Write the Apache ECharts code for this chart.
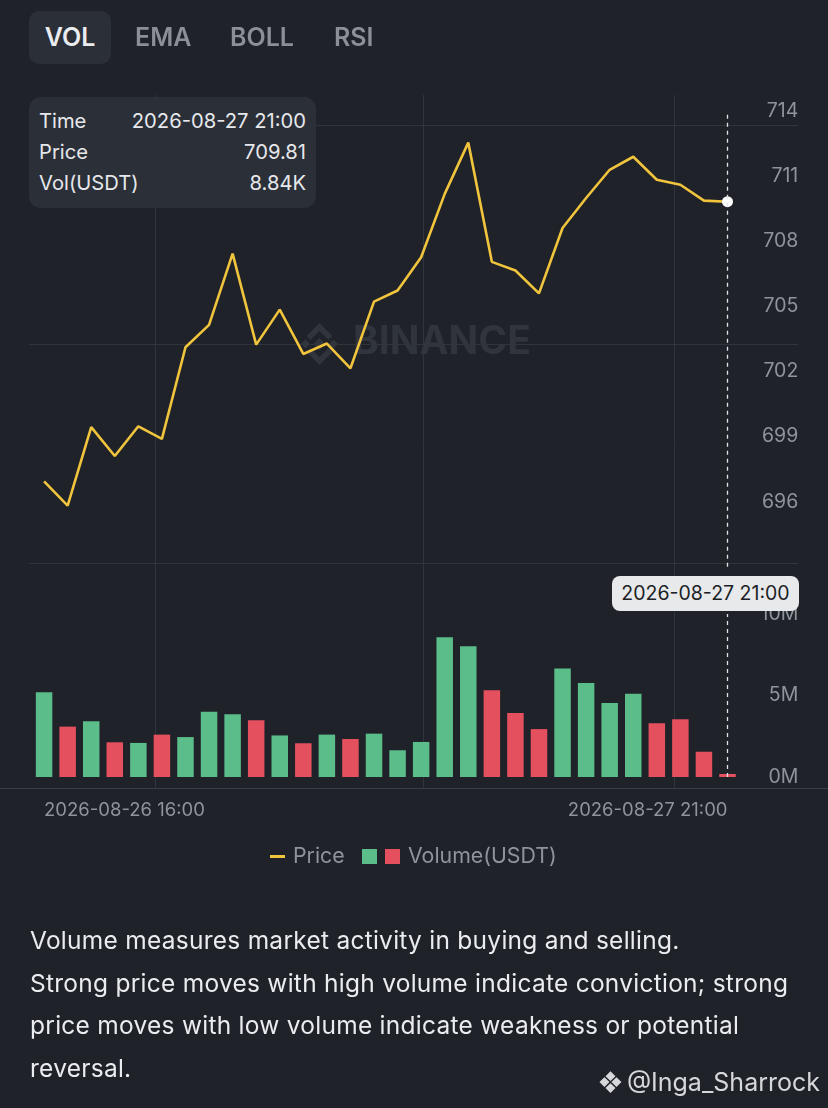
<!DOCTYPE html>
<html>
<head>
<meta charset="utf-8">
<script src="https://cdn.jsdelivr.net/npm/echarts@6/dist/echarts.min.js"></script>
<style>
  html, body { margin: 0; padding: 0; background: #1f2229; }
  body { width: 828px; height: 1108px; position: relative; overflow: hidden; font-family: Inter, "Noto Sans", sans-serif; }
  #chart { position: absolute; left: 0; top: 0; width: 828px; height: 1108px; }
  .tab { position: absolute; top: 11px; height: 53px; line-height: 53px; font-size: 25px; font-weight: 600; color: #8b8f98; }
  .tab.on { left: 29px; width: 82px; text-align: center; color: #eaecef; background: #2b2f38; border-radius: 10px; }
  .info { position: absolute; left: 29px; top: 97px; width: 287px; height: 111px; box-sizing: border-box;
          padding: 8px 10px 0 10px; background: #2b2f38; border-radius: 12px; color: #e6e8eb; font-size: 20.2px; }
  .info .row { display: flex; justify-content: space-between; height: 31px; line-height: 31px; }
  .xtag { position: absolute; left: 612px; top: 576px; width: 187px; height: 35px; line-height: 35px; text-align: center;
          background: #e8e9eb; color: #1c1f26; border-radius: 8px; font-size: 19.5px; }
  .note { position: absolute; left: 30px; top: 919px; font-size: 24.5px; letter-spacing: 0.26px; line-height: 42.7px; color: #eaecef; white-space: nowrap; }
  .mark { position: absolute; left: 597px; top: 1064px; height: 36px; line-height: 36px; color: #d6d7da; font-size: 25px; white-space: nowrap; }
  .mark span { font-family: "DejaVu Sans"; font-size: 30px; margin-right: 3px; vertical-align: -2px; }
</style>
</head>
<body>
<div id="chart"></div>

<div class="tab on">VOL</div>
<div class="tab" style="left:135px">EMA</div>
<div class="tab" style="left:230px">BOLL</div>
<div class="tab" style="left:334px">RSI</div>

<div class="info">
  <div class="row"><span>Time</span><span id="tTime"></span></div>
  <div class="row"><span>Price</span><span id="tPrice"></span></div>
  <div class="row"><span>Vol(USDT)</span><span id="tVol"></span></div>
</div>
<div class="xtag" id="xTag"></div>

<div class="note">
  Volume measures market activity in buying and selling.<br>
  Strong price moves with high volume indicate conviction; strong<br>
  price moves with low volume indicate weakness or potential<br>
  reversal.
</div>
<div class="mark"><span>❖</span>@Inga_Sharrock</div>

<script>
// hourly candles, 26 Aug 16:00 -> 27 Aug 21:00
const times = [
  "2026-08-26 16:00", "2026-08-26 17:00", "2026-08-26 18:00", "2026-08-26 19:00", "2026-08-26 20:00",
  "2026-08-26 21:00", "2026-08-26 22:00", "2026-08-26 23:00", "2026-08-27 00:00", "2026-08-27 01:00",
  "2026-08-27 02:00", "2026-08-27 03:00", "2026-08-27 04:00", "2026-08-27 05:00", "2026-08-27 06:00",
  "2026-08-27 07:00", "2026-08-27 08:00", "2026-08-27 09:00", "2026-08-27 10:00", "2026-08-27 11:00",
  "2026-08-27 12:00", "2026-08-27 13:00", "2026-08-27 14:00", "2026-08-27 15:00", "2026-08-27 16:00",
  "2026-08-27 17:00", "2026-08-27 18:00", "2026-08-27 19:00", "2026-08-27 20:00", "2026-08-27 21:00"
];

const price = [
  696.93, 695.82, 699.43, 698.10, 699.47, 698.89, 703.11, 704.14, 707.42, 703.23,
  704.84, 702.80, 703.28, 702.14, 705.21, 705.72, 707.25, 710.17, 712.53, 707.04,
  706.64, 705.59, 708.60, 709.98, 711.28, 711.88, 710.82, 710.59, 709.86, 709.81
];

// USDT
const volume = [
  5200000, 3090000, 3420000, 2130000, 2090000, 2600000, 2450000, 4000000, 3850000, 3480000,
  2550000, 2070000, 2600000, 2330000, 2660000, 1640000, 2150000, 8570000, 8020000, 5320000,
  3930000, 2940000, 6650000, 5770000, 4540000, 5110000, 3290000, 3540000, 1550000, 8840
];

const priceMin = 693, priceMax = 714, priceStep = 3;
const volMax = 10000000, volStep = 5000000;

// background grid lines (fractions of the plot box)
const bgLinesX = [0.1638, 0.5124, 0.8388];
const bgLinesY = [0.0433, 0.3593, 0.6753];

const UP = "#5bbd89";
const DOWN = "#e5505f";
const GOLD = "#f0c43c";
const AXIS_TXT = "#8f939b";
const GRID_LINE = "#30343d";
const FONT = "Inter";

const last = times.length - 1;

// bar colour follows the price move of that candle
const volColors = volume.map((v, i) => (i === 0 || price[i] >= price[i - 1] ? UP : DOWN));

// info box + crosshair tag show the latest candle
const fmtVol = (v) => (v >= 1e6 ? (v / 1e6).toFixed(2) + "M" : (v / 1e3).toFixed(2) + "K");
document.getElementById("tTime").textContent = times[last];
document.getElementById("tPrice").textContent = price[last].toFixed(2);
document.getElementById("tVol").textContent = fmtVol(volume[last]);
document.getElementById("xTag").textContent = times[last];

const chart = echarts.init(document.getElementById("chart"));

const crossLine = {
  silent: true,
  symbol: ["none", "none"],
  label: { show: false },
  lineStyle: { color: "#e2e3e6", type: [4, 4], width: 1.3 },
  data: [{ xAxis: last }],
};

// tiny diamond for the watermark logo
const diamond = (cx, cy, r) => [[cx, cy - r], [cx + r, cy], [cx, cy + r], [cx - r, cy]];

const legendText = { color: AXIS_TXT, fontSize: 21.3, fontFamily: FONT, padding: [0, 0, 0, 3] };

const option = {
  animation: false,
  backgroundColor: "transparent",
  textStyle: { fontFamily: FONT },
  grid: [
    { left: 32.3, right: 88.7, top: 110.7, height: 456.1 },
    { left: 32.3, right: 88.7, top: 614, height: 163 },
    { left: 29, right: 30, top: 95, bottom: 320 },
    { left: 0, right: 0, top: 788, height: 0 },
  ],
  xAxis: [
    { type: "category", gridIndex: 0, data: times, boundaryGap: true, show: false },
    {
      type: "category", gridIndex: 1, data: times, boundaryGap: true,
      axisLine: { show: false }, axisTick: { show: false }, splitLine: { show: false },
      axisLabel: {
        interval: (i) => i === 0 || i === last,
        margin: 24, color: AXIS_TXT, fontSize: 18.5, fontFamily: FONT,
        alignMinLabel: "left", alignMaxLabel: "right",
      },
    },
    {
      type: "value", gridIndex: 2, min: 0, max: 1,
      axisLine: { show: false }, axisLabel: { show: false },
      axisTick: { show: false, customValues: bgLinesX },
      splitLine: { show: true, lineStyle: { color: GRID_LINE, width: 1 } },
    },
    {
      type: "value", gridIndex: 3, min: 0, max: 1,
      axisLine: { show: true, onZero: false, lineStyle: { color: "#393d46", width: 1 } },
      axisLabel: { show: false }, axisTick: { show: false }, splitLine: { show: false },
    },
  ],
  yAxis: [
    {
      type: "value", gridIndex: 0, position: "right",
      min: priceMin, max: priceMax, interval: priceStep,
      axisLine: { show: false }, axisTick: { show: false }, splitLine: { show: false },
      axisLabel: { showMinLabel: false, align: "right", margin: 59, color: AXIS_TXT, fontSize: 19.5, fontFamily: FONT },
    },
    {
      type: "value", gridIndex: 1, position: "right",
      min: 0, max: volMax, interval: volStep,
      axisLine: { show: false }, axisTick: { show: false }, splitLine: { show: false },
      axisLabel: {
        formatter: (v) => v / 1e6 + "M",
        align: "right", margin: 59, color: AXIS_TXT, fontSize: 19.5, fontFamily: FONT,
      },
    },
    {
      type: "value", gridIndex: 2, min: 0, max: 1, inverse: true,
      axisLine: { show: false }, axisLabel: { show: false },
      axisTick: { show: false, customValues: bgLinesY },
      splitLine: { show: true, lineStyle: { color: GRID_LINE, width: 1 } },
    },
    { type: "value", gridIndex: 3, show: false },
  ],
  legend: [
    {
      data: [{ name: "Price", icon: "rect" }],
      left: 270, top: 846, padding: 0, itemWidth: 15, itemHeight: 3, selectedMode: false,
      textStyle: legendText,
    },
    {
      data: [{
        name: "Volume(USDT)",
        icon: "path://M0,0H15V15H0Z M23,0H38V15H23Z",
        itemStyle: {
          color: {
            type: "linear", x: 0, y: 0, x2: 1, y2: 0,
            colorStops: [
              { offset: 0, color: UP }, { offset: 0.5, color: UP },
              { offset: 0.5, color: DOWN }, { offset: 1, color: DOWN },
            ],
          },
        },
      }],
      left: 362, top: 846, padding: 0, itemWidth: 38, itemHeight: 15, selectedMode: false,
      textStyle: legendText,
    },
  ],
  graphic: [
    {
      type: "group", left: 301, top: 323, z: 1, silent: true,
      children: [
        { type: "polygon", shape: { points: diamond(21, 21, 6) }, style: { fill: "#30343d" } },
        { type: "polygon", shape: { points: diamond(7, 21, 4.5) }, style: { fill: "#30343d" } },
        { type: "polygon", shape: { points: diamond(35, 21, 4.5) }, style: { fill: "#30343d" } },
        { type: "polygon", shape: { points: [[21, 0], [34, 13], [30, 17], [21, 8], [12, 17], [8, 13]] }, style: { fill: "#30343d" } },
        { type: "polygon", shape: { points: [[21, 42], [34, 29], [30, 25], [21, 34], [12, 25], [8, 29]] }, style: { fill: "#30343d" } },
      ],
    },
    {
      type: "text", left: 353, top: 323, z: 1, silent: true,
      style: { text: "BINANCE", fill: "#30343d", font: "700 39px Inter" },
    },
  ],
  series: [
    {
      name: "Price", type: "line", xAxisIndex: 0, yAxisIndex: 0,
      data: price.map((p, i) =>
        i === last ? { value: p, symbol: "circle", symbolSize: 11, itemStyle: { color: "#ffffff" } } : p
      ),
      symbol: "none", showSymbol: true,
      lineStyle: { color: GOLD, width: 2.6 },
      itemStyle: { color: GOLD },
      markLine: crossLine,
      z: 3,
    },
    {
      name: "Volume(USDT)", type: "bar", xAxisIndex: 1, yAxisIndex: 1,
      barWidth: "70%", barMinHeight: 3,
      data: volume.map((v, i) => ({ value: v, itemStyle: { color: volColors[i] } })),
      markLine: crossLine,
    },
  ],
};

chart.setOption(option);
</script>
</body>
</html>
